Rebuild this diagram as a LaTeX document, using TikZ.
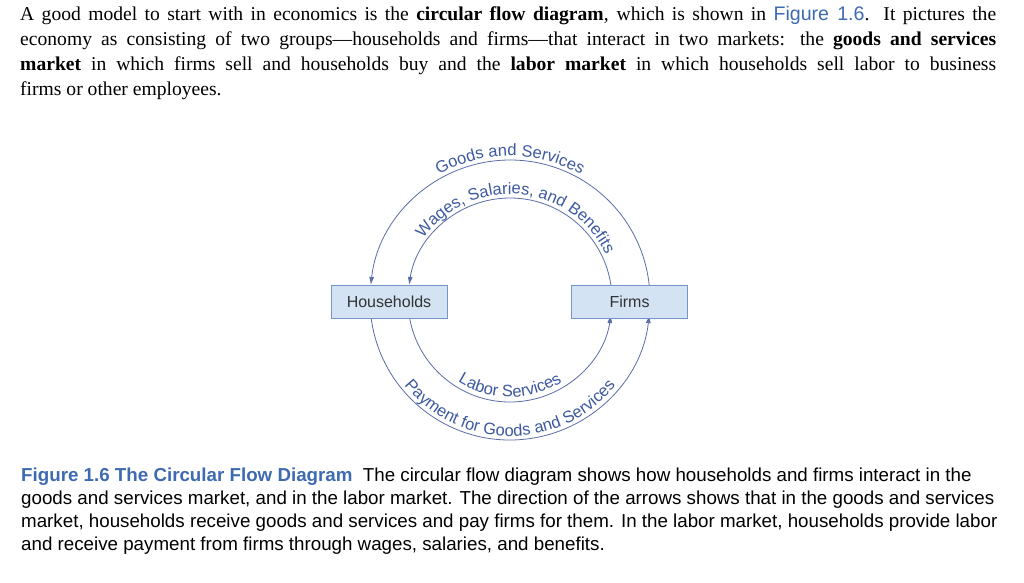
\documentclass[tikz,border=0pt]{standalone}
\usepackage{fontspec}
\setmainfont{Liberation Serif}
\setsansfont{Liberation Sans}
\usetikzlibrary{decorations.text,arrows.meta}
\definecolor{figblue}{HTML}{3D6AB0}
\definecolor{arcc}{HTML}{5A6CA8}
\definecolor{lblc}{HTML}{3C58A0}
\definecolor{boxfill}{HTML}{D3E3F4}
\definecolor{boxline}{HTML}{7496C6}
\begin{document}
\begin{tikzpicture}[x=1pt,y=1pt,
  para/.style={anchor=base west,inner sep=0pt,font=\fontsize{19.6}{19}\selectfont},
  capt/.style={anchor=base west,inner sep=0pt,font=\sffamily\fontsize{18.75}{18}\selectfont},
  box/.style={draw=boxline,fill=boxfill,line width=0.9pt,minimum width=116pt,minimum height=33pt,inner sep=0pt,font=\sffamily\fontsize{16}{16}\selectfont,text=black!80},
  flow/.style={draw=arcc,line width=0.8pt,-{Latex[length=8pt,width=5pt]}},
  lbl/.style={decorate,decoration={text along path,text align=center,text format delimiters={|}{|}}}
]
\useasboundingbox (0,0) rectangle (1024,-582);
% paragraph
\node[para] (p1) at (20,-20.5) {\makebox[976pt][s]{A good model to start with in economics is the \textbf{circular flow diagram}, which is shown in {\sffamily\color{figblue}Figure 1.6}. It pictures the}};
\node[para] (p2) at (20,-45.5) {\makebox[976pt][s]{economy as consisting of two groups---households and firms---that interact in two markets: the \textbf{goods and services}}};
\node[para] (p3) at (20,-70.5) {\makebox[976pt][s]{\textbf{market} in which firms sell and households buy and the \textbf{labor market} in which households sell labor to business}};
\node[para] (p4) at (20,-95.5) {firms or other employees.};
% arcs
\coordinate (c) at (510,-300);
\draw[flow] (c) ++(6.2:140) arc[start angle=6.2,end angle=173.8,radius=140];
\draw[flow] (c) ++(8.5:102) arc[start angle=8.5,end angle=171.5,radius=102];
\draw[flow] (c) ++(-171.5:102) arc[start angle=-171.5,end angle=-8.5,radius=102];
\draw[flow] (c) ++(-173.8:140) arc[start angle=-173.8,end angle=-6.2,radius=140];
% boxes
\node[box] (hh) at (389,-301.5) {Households};
\node[box] (ff) at (629.5,-301.5) {Firms};
% curved labels
\path[lbl,decoration={text={|\sffamily\fontsize{16.5}{16}\selectfont\color{lblc}|Goods and Services}}]
  (c) ++(160:144) arc[start angle=160,end angle=20,radius=144];
\path[lbl,decoration={text={|\sffamily\fontsize{16.5}{16}\selectfont\color{lblc}|Wages, Salaries, and Benefits}}]
  (c) ++(178:106) arc[start angle=178,end angle=-8,radius=106];
\path[lbl,decoration={text={|\sffamily\fontsize{16.5}{16}\selectfont\color{lblc}|Labor Services}}]
  (c) ++(-160:97) arc[start angle=-160,end angle=-20,radius=97];
\path[lbl,decoration={text={|\sffamily\fontsize{16.5}{16}\selectfont\color{lblc}|Payment for Goods and Services}}]
  (c) ++(-168:136) arc[start angle=-168,end angle=-12,radius=136];
% caption
\node[capt] (c1) at (21,-481) {{\bfseries\color{figblue}Figure 1.6 The Circular Flow Diagram}\ \ The circular flow diagram shows how households and firms interact in the};
\node[capt] (c2) at (21,-504) {goods and services market, and in the labor market. The direction of the arrows shows that in the goods and services};
\node[capt] (c3) at (21,-527) {market, households receive goods and services and pay firms for them. In the labor market, households provide labor};
\node[capt] (c4) at (21,-550) {and receive payment from firms through wages, salaries, and benefits.};
\end{tikzpicture}
\end{document}
